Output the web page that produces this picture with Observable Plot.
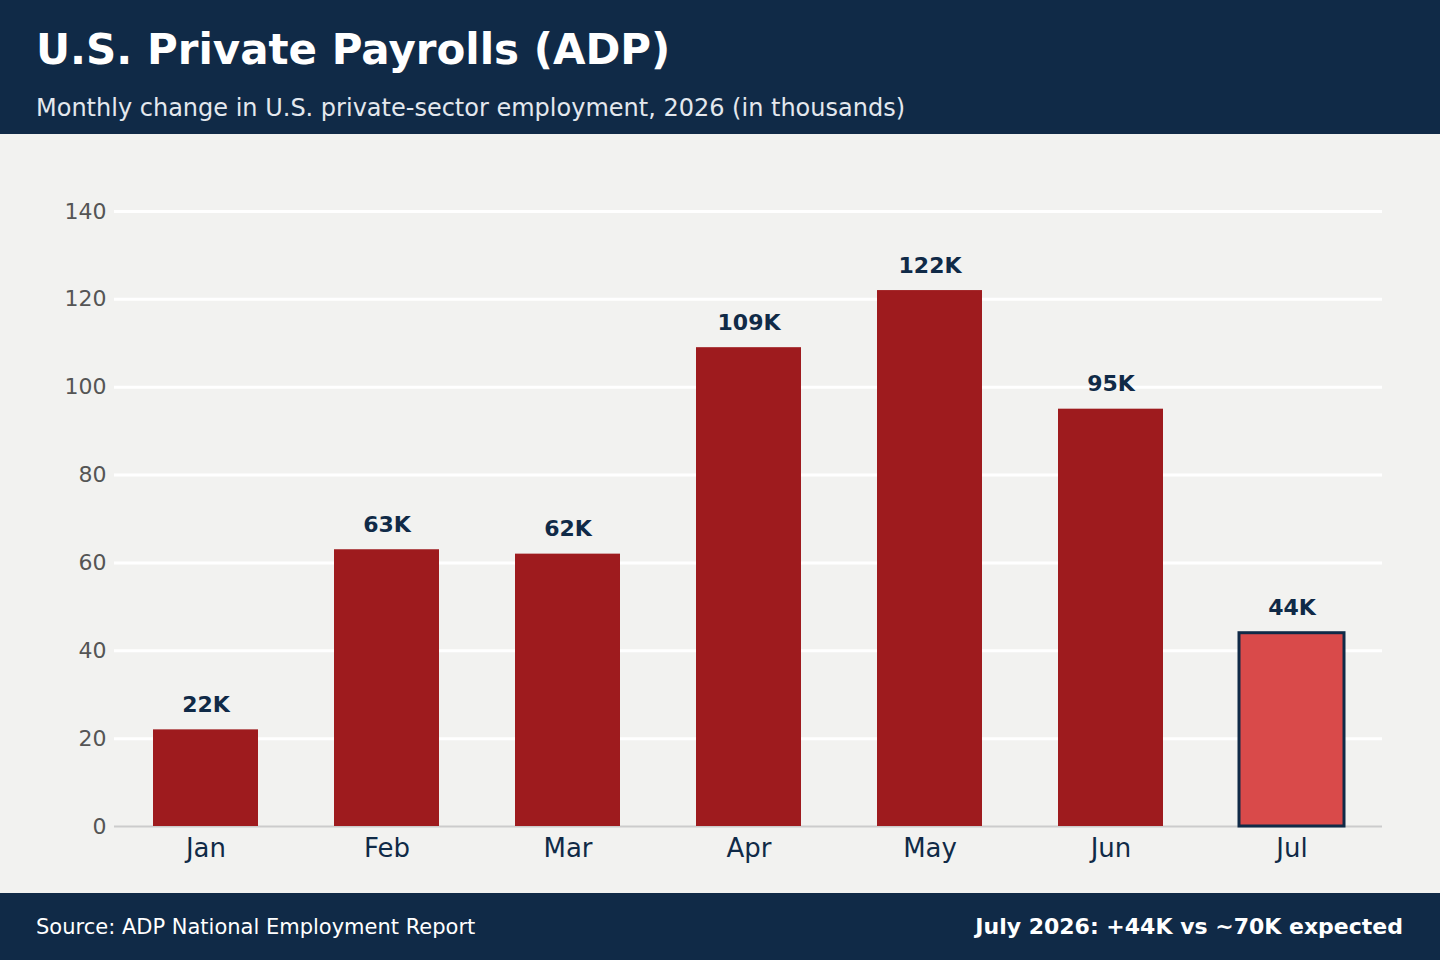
<!DOCTYPE html>
<html><head><meta charset="utf-8">
<script src="https://cdn.jsdelivr.net/npm/d3@7"></script>
<script src="https://cdn.jsdelivr.net/npm/@observablehq/plot@0.6"></script>
<style>
body{margin:0;width:1440px;height:960px;overflow:hidden;font-family:"DejaVu Sans",sans-serif;background:#f2f2f0}
#hd{background:#102a47;height:134px;box-sizing:border-box;padding:26px 36px 0;color:#fff}
#hd h1{margin:0;font-size:42px;font-weight:bold;line-height:48px}
#hd p{margin:20px 0 0;font-size:24px;color:#e4e8ee}
#ft{background:#102a47;height:67px;display:flex;justify-content:space-between;align-items:center;padding:0 37px 0 36px;color:#fff;font-size:21px}
#ft b{font-size:22px}
#chart svg{display:block}
.yax text{font-size:22px !important}
.xax text{font-size:26px !important}
.vlab text{font-size:22px !important}
</style></head><body>
<div id="hd"><h1>U.S. Private Payrolls (ADP)</h1><p>Monthly change in U.S. private-sector employment, 2026 (in thousands)</p></div>
<div id="chart"></div>
<div id="ft"><span>Source: ADP National Employment Report</span><b>July 2026: +44K vs ~70K expected</b></div>
<script>
const months=["Jan","Feb","Mar","Apr","May","Jun","Jul"];
const values=[22,63,62,109,122,95,44];
const yTicks=[0,20,40,60,80,100,120,140];
const data=months.map((m,i)=>({m,v:values[i],last:i===months.length-1}));
const plot=Plot.plot({
  width:1440,height:759,marginTop:77,marginBottom:67,marginLeft:114,marginRight:58,
  style:{background:"#f2f2f0",fontFamily:"DejaVu Sans, sans-serif"},
  x:{domain:months,paddingInner:0.42,paddingOuter:0.21,label:null,tickSize:0,tickPadding:8},
  y:{domain:[0,140],ticks:yTicks,label:null,tickSize:0,tickPadding:8},
  marks:[
    Plot.gridY(yTicks.filter(d=>d>0),{stroke:"#fff",strokeOpacity:1,strokeWidth:3}),
    Plot.ruleY([0],{stroke:"#ccc",strokeWidth:2}),
    Plot.barY(data,{x:"m",y:"v",fill:d=>d.last?"#d94a4a":"#9e1b1e",stroke:d=>d.last?"#102a47":"none",strokeWidth:3,inset:0}),
    Plot.text(data,{x:"m",y:"v",text:d=>d.v+"K",dy:-25,fill:"#102a47",fontSize:22,fontWeight:"bold",className:"vlab"}),
    Plot.axisY({ticks:yTicks,tickSize:0,tickPadding:8,fontSize:22,fill:"#555",label:null,className:"yax"}),
    Plot.axisX({tickSize:0,tickPadding:12,fontSize:26,fill:"#102a47",label:null,className:"xax"})
  ]
});
document.getElementById("chart").append(plot);
</script></body></html>
